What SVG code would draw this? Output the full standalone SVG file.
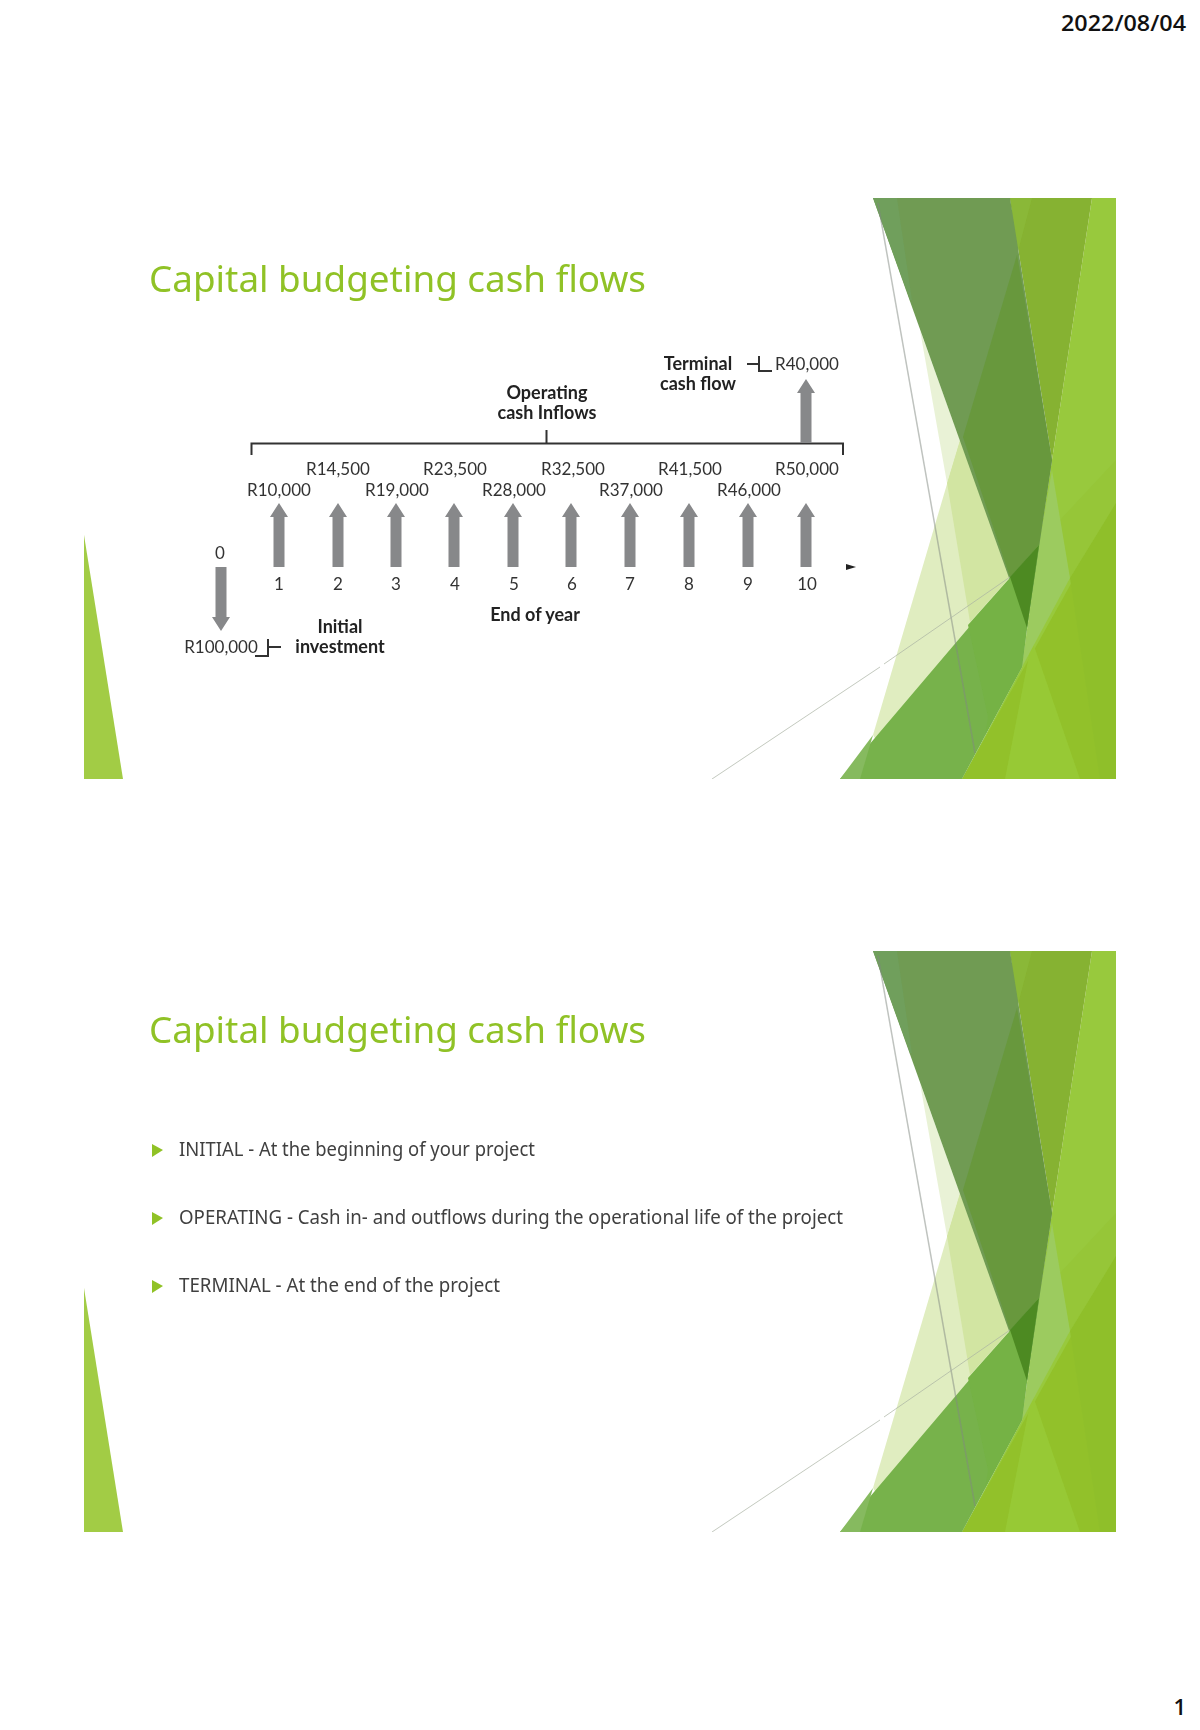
<svg xmlns="http://www.w3.org/2000/svg" xmlns:xlink="http://www.w3.org/1999/xlink" width="1200" height="1730" viewBox="0 0 1200 1730">
<style>
.title{font-family:"Noto Sans","Open Sans",sans-serif;font-size:37px;fill:#90c226}
.body{font-family:"Noto Sans","Open Sans",sans-serif;font-size:20px;fill:#404040}
.d{font-family:"Lato","Liberation Sans",sans-serif;font-size:17px;fill:#333;text-anchor:middle}
.b{font-family:"Lato","Liberation Sans",sans-serif;font-size:18px;font-weight:700;fill:#222;text-anchor:middle}
.conn{fill:none;stroke:#333;stroke-width:2}
.arrow{fill:#87888a}
.bullet{fill:#90c226}
.page{font-family:"Open Sans",sans-serif;font-weight:600;fill:#111;text-anchor:end}
</style>
<defs>
<filter id="soft" x="0" y="0" width="100%" height="100%"><feGaussianBlur stdDeviation="0.4"/></filter>
<path id="up" class="arrow" d="M-5.500 64V14H-9L0 0L9 14H5.500V64Z"/>
<g id="facet">
<polygon points="84,535 123,779 84,779" fill="#a2cc45"/>
<polygon points="960,440 1010,577 900,779 873,735" fill="#e0edc0"/>
<polygon points="920,330 960,440 947,483" fill="#e9f2d6"/>
<polygon points="947,483 960,440 1010,577 970,622" fill="#d2e5a2"/>
<polygon points="1092,198 1116,198 1116,779 962,779 1022,667 1039,545 1052,460" fill="#98c93d"/>
<polygon points="1116,460 1116,503 1070,578 1060,520" fill="#96c638"/>
<polygon points="1116,503 1116,779 962,779" fill="#92c12b"/>
<polygon points="1116,503 1116,779 1100,779 1070,578" fill="#8fbf2a"/>
<polygon points="1032,640 1080,779 1005,779" fill="#97c934"/>
<polygon points="1052,470 1070,578 1022,667 1039,545" fill="#9ccb5e"/>
<polygon points="1010,198 1092,198 1052,460" fill="#86b230"/>
<polygon points="1010,198 1032,198 1017,255" fill="#8ab838"/>
<polygon points="873,198 1010,198 1052,460 1027,628" fill="#6f9b52"/>
<polygon points="873,198 897,198 912,300 910,300" fill="#6f9f5c"/>
<polygon points="1017,255 1052,460 1039,545 1010,577 963,437" fill="#68983c"/>
<polygon points="1039,545 1027,628 1022,667 962,779 840,779" fill="#77b24c"/>
<polygon points="968,625 1039,545 1027,628 1022,667 985,735 988,717" fill="#74b244"/>
<polygon points="873,735 840,779 860,779" fill="#86ba5e"/>
<polygon points="1039,545 1027,628 1010,577" fill="#4e8a24"/>
<line x1="878" y1="203" x2="975" y2="753" stroke="#808880" stroke-opacity=".5" stroke-width="1.5"/>
<path d="M712 779L880 667M884 664L1010 577" fill="none" stroke="#aab2a2" stroke-opacity=".7"/>
</g>
</defs>
<rect width="1200" height="1730" fill="#fff"/>
<text id="date" class="page" x="1186" y="31" font-size="22" textLength="125" lengthAdjust="spacingAndGlyphs">2022/08/04</text>
<text id="pagenum" class="page" x="1186" y="1715" font-size="22" font-weight="700">1</text>

<g id="slide1" filter="url(#soft)">
<use xlink:href="#facet" href="#facet"/>
<text class="title" x="149" y="292" textLength="497" lengthAdjust="spacingAndGlyphs">Capital budgeting cash flows</text>
<g id="connectors">
<path class="conn" d="M251.500 455V443.500H843V455M546.500 430V443.500"/>
<path class="conn" d="M255 656H268V639M268 647H281"/>
<path class="conn" d="M747 364H759V371H772M759 356V371"/>
<path fill="#222" d="M846 564L856 567L846 570Z"/>
</g>
<g id="arrow0"><use href="#up" xlink:href="#up" transform="translate(221,631) scale(1,-1)"/></g>
<g id="a1"><use href="#up" xlink:href="#up" x="279" y="503"/><text class="d" x="279" y="496">R10,000</text><text class="d" x="279" y="590">1</text></g>
<g id="a2"><use href="#up" xlink:href="#up" x="338" y="503"/><text class="d" x="338" y="475">R14,500</text><text class="d" x="338" y="590">2</text></g>
<g id="a3"><use href="#up" xlink:href="#up" x="396" y="503"/><text class="d" x="397" y="496">R19,000</text><text class="d" x="396" y="590">3</text></g>
<g id="a4"><use href="#up" xlink:href="#up" x="454" y="503"/><text class="d" x="455" y="475">R23,500</text><text class="d" x="455" y="590">4</text></g>
<g id="a5"><use href="#up" xlink:href="#up" x="513" y="503"/><text class="d" x="514" y="496">R28,000</text><text class="d" x="514" y="590">5</text></g>
<g id="a6"><use href="#up" xlink:href="#up" x="571" y="503"/><text class="d" x="573" y="475">R32,500</text><text class="d" x="572" y="590">6</text></g>
<g id="a7"><use href="#up" xlink:href="#up" x="630" y="503"/><text class="d" x="631" y="496">R37,000</text><text class="d" x="630" y="590">7</text></g>
<g id="a8"><use href="#up" xlink:href="#up" x="689" y="503"/><text class="d" x="690" y="475">R41,500</text><text class="d" x="689" y="590">8</text></g>
<g id="a9"><use href="#up" xlink:href="#up" x="748" y="503"/><text class="d" x="749" y="496">R46,000</text><text class="d" x="748" y="590">9</text></g>
<g id="a10"><use href="#up" xlink:href="#up" x="806" y="503"/><text class="d" x="807" y="475">R50,000</text><text class="d" x="807" y="590">10</text></g>
<g id="terminal"><use href="#up" xlink:href="#up" x="806" y="379"/><text class="d" x="807" y="370">R40,000</text><text class="b" x="698" y="370">Terminal</text><text class="b" x="698" y="390">cash flow</text></g>
<g id="operating"><text class="b" x="547" y="399">Operating</text><text class="b" x="547" y="419">cash Inflows</text></g>
<g id="year"><text class="b" x="535" y="621">End of year</text></g>
<g id="initial"><text class="d" x="220" y="559">0</text><text class="d" x="221" y="653">R100,000</text><text class="b" x="340" y="633">Initial</text><text class="b" x="340" y="653">investment</text></g>
</g>

<g id="slide2" filter="url(#soft)">
<use href="#facet" xlink:href="#facet" y="753"/>
<text class="title" x="149" y="1043" textLength="497" lengthAdjust="spacingAndGlyphs">Capital budgeting cash flows</text>
<polygon class="bullet" points="152,1144 163,1150 152,1157"/>
<text class="body" x="179" y="1156" textLength="356" lengthAdjust="spacingAndGlyphs">INITIAL - At the beginning of your project</text>
<polygon class="bullet" points="152,1212 163,1218 152,1225"/>
<text class="body" x="179" y="1224" textLength="664" lengthAdjust="spacingAndGlyphs">OPERATING - Cash in- and outflows during the operational life of the project</text>
<polygon class="bullet" points="152,1280 163,1286 152,1293"/>
<text class="body" x="179" y="1292" textLength="321" lengthAdjust="spacingAndGlyphs">TERMINAL - At the end of the project</text>
</g>
</svg>
